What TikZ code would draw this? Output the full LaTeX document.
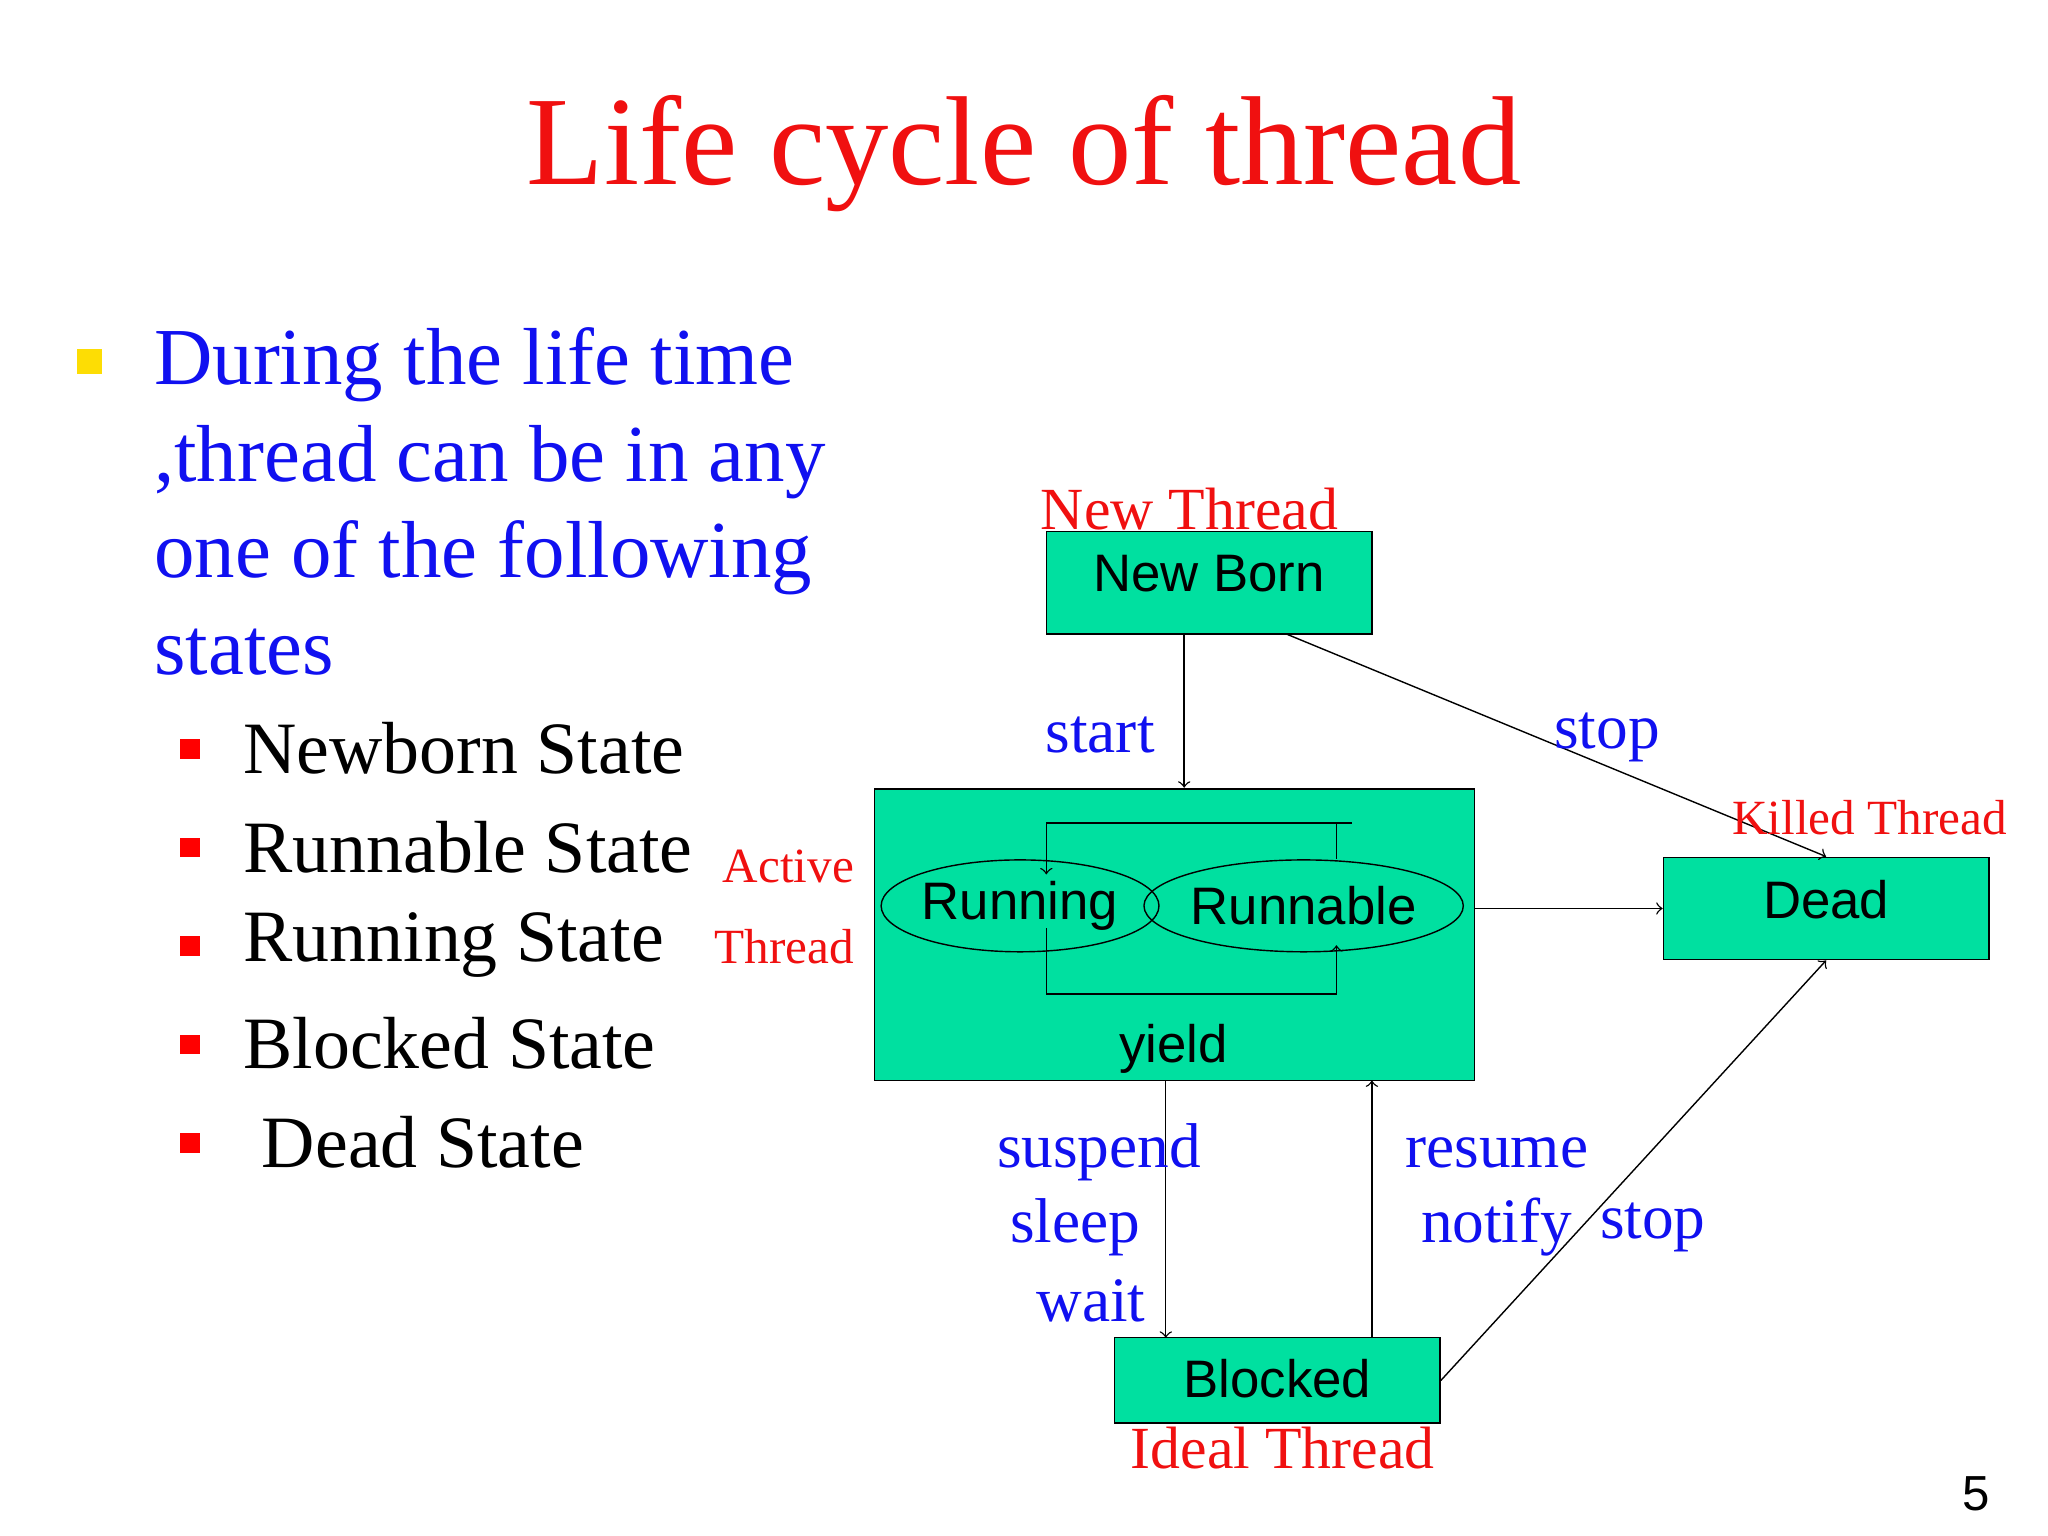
\documentclass[tikz,border=0pt]{standalone}
\usepackage{fontspec}
\usetikzlibrary{shapes.geometric}
\setmainfont{Liberation Serif}
\setsansfont{Liberation Sans}
\definecolor{boxgreen}{HTML}{00E0A0}
\definecolor{textblue}{HTML}{1010F0}
\definecolor{textred}{HTML}{F01010}
\tikzset{
  statebox/.style={draw, fill=boxgreen, inner sep=0pt},
  flow/.style={->, >=to},
  lbl/.style={text=textblue, font=\fontsize{18}{20}\selectfont},
  tag/.style={text=textred, font=\fontsize{15}{17}\selectfont},
}
\begin{document}
\begin{tikzpicture}[x=0.013128cm, y=-0.013128cm]
    \useasboundingbox (0,0) rectangle (1560,1170);

    % Title
    \node[text=textred, font=\fontsize{36}{40}\selectfont] (title) at (780,117) {Life cycle of thread};

    % Bullet text
    \fill[yellow!80!orange] (59,266) rectangle (78,285);
    \node[text=textblue, font=\fontsize{23}{27.5}\selectfont, anchor=north west, align=left] (intro) at (108,240)
        {During the life time\\,thread can be in any\\one of the following\\states};
    \foreach \y/\t in {570/Newborn State, 645/Runnable State, 720/Running State, 795/Blocked State, 870/\ Dead State} {
        \fill[red] (137,\y-7) rectangle (152,\y+8);
        \node[font=\fontsize{21}{24}\selectfont, anchor=west] at (176,\y) {\t};
    }

    % States
    \node[statebox, minimum width=248*0.013128cm, minimum height=78*0.013128cm] (newborn) at (921,444) {};
    \node[font=\sffamily\fontsize{15}{17}\selectfont] (newborntxt) at (921,437) {New Born};
    \node[statebox, minimum width=457*0.013128cm, minimum height=222*0.013128cm] (active) at (894.5,712) {};
    \node[statebox, minimum width=248*0.013128cm, minimum height=78*0.013128cm] (dead) at (1391,692) {};
    \node[font=\sffamily\fontsize{15}{17}\selectfont] (deadtxt) at (1391,685) {Dead};
    \node[statebox, minimum width=248*0.013128cm, minimum height=65*0.013128cm] (blocked) at (973,1051.5) {};
    \node[font=\sffamily\fontsize{15}{17}\selectfont] (blockedtxt) at (973,1050) {Blocked};
    \node[font=\sffamily\fontsize{15}{17}\selectfont] (yield) at (894,799) {yield};

    % Inner states
    \node[draw, ellipse, minimum width=170*0.013128cm, minimum height=70*0.013128cm, inner sep=0pt, font=\sffamily\fontsize{15}{17}\selectfont] (running) at (777,690) {Running};
    \node[draw, ellipse, minimum width=184*0.013128cm, minimum height=70*0.013128cm, inner sep=0pt, font=\sffamily\fontsize{15}{17}\selectfont] (runnable) at (993,690) {Runnable};
    \coordinate (loopa) at (797,627);
    \coordinate (loopb) at (1030,627);
    \draw (loopb) -- (loopa);
    \draw (1018,627) -- (1018,654);
    \draw[flow] (loopa) -- (797,666);
    \draw[flow] (797,707) -- (797,757) -| (1018,720);

    % Transitions
    \draw[flow] (902,483) -- (902,600);
    \draw[flow] (980,483) -- (dead.north);
    \draw[flow] (active.east |- dead) -- (dead.west);
    \draw[flow] (888,823) -- (888,1019);
    \draw[flow] (1045,1019) -- (1045,823);
    \draw[flow] (blocked.east) -- (dead.south);

    % Labels
    \node[lbl] (start) at (838,560) {start};
    \node[lbl] (stopa) at (1224,562) {stop};
    \node[lbl, anchor=west] (suspend) at (750,878) {suspend};
    \node[lbl, anchor=west] (sleep) at (760,935) {sleep};
    \node[lbl, anchor=west] (wait) at (780,991) {wait};
    \node[lbl, anchor=west] (resume) at (1061,878) {resume};
    \node[lbl, anchor=west] (notify) at (1073,935) {notify};
    \node[lbl] (stopb) at (1259,935) {stop};
    \node[tag, font=\fontsize{17}{19}\selectfont] (newtag) at (906,388) {New Thread};
    \node[tag, font=\fontsize{17}{19}\selectfont] (idealtag) at (977,1103) {Ideal Thread};
    \node[tag, font=\fontsize{14}{16}\selectfont] (killedtag) at (1424,623) {Killed Thread};
    \node[tag, font=\fontsize{14}{16}\selectfont, align=right, anchor=east] (activetag) at (660,691) {Active\\[7pt]Thread};

    % Page number
    \node[font=\sffamily\fontsize{14}{16}\selectfont] (page) at (1505,1138) {5};
\end{tikzpicture}
\end{document}
